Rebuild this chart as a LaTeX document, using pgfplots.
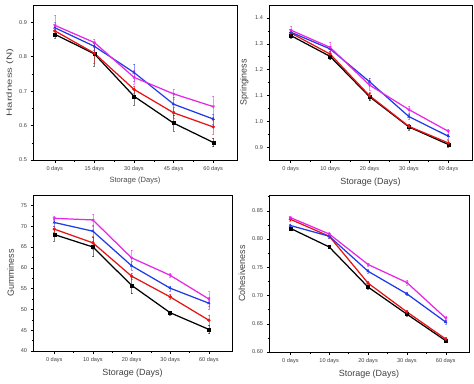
\documentclass[border=0pt]{standalone}
\usepackage{pgfplots}
\pgfplotsset{compat=1.18}
\usepackage{fontspec}
\setmainfont{Liberation Sans}
\definecolor{cblue}{RGB}{30,60,230}
\definecolor{cmag}{RGB}{230,40,230}
\definecolor{cred}{RGB}{230,20,20}
\pgfplotsset{
  panel/.style={
    scale only axis, anchor=south west,
    xmin=-0.55, xmax=4.6,
    xtick={0,1,2,3,4},
    minor xtick={0.5,1.5,2.5,3.5},
    tick align=outside, tick pos=left,
    major tick length=2.5bp, minor tick length=1.5bp,
    tick style={black, line width=0.4pt},
    axis line style={line width=0.7pt},
    tick label style={font=\fontsize{5.6}{6}\selectfont, text=black!75},
    /pgf/number format/assume math mode=true,
    ylabel near ticks, xlabel near ticks,
    every axis plot/.append style={line width=1.25pt, mark size=1.5pt},
    error bars/y dir=both, error bars/y explicit,
    error bars/error bar style={line width=0.3pt, opacity=0.5},
    error bars/error mark options={rotate=90, mark size=1pt, line width=0.3pt},
  },
  sblack/.style={black, mark=square*, mark options={line width=0.4pt}},
  sred/.style={cred, mark=*, mark options={line width=0.4pt}},
  sblue/.style={cblue, mark=triangle*, mark options={line width=0.4pt}},
  smag/.style={cmag, mark=triangle*, mark options={rotate=180, line width=0.4pt}},
}
\begin{document}
\begin{tikzpicture}[x=1bp,y=1bp]
\useasboundingbox (0,0) rectangle (474,383);
% Panel 1 Hardness
\begin{axis}[panel, at={(33bp,223bp)}, width=204bp, height=155bp,
  ymin=0.5, ymax=0.95, ytick={0.5,0.6,0.7,0.8,0.9}, minor ytick={0.55,0.65,0.75,0.85},
  yticklabel style={/pgf/number format/fixed, /pgf/number format/precision=1, /pgf/number format/fixed zerofill},
  xticklabels={0 days,15 days,30 days,45 days,60 days},
  xlabel={\fontsize{7.6}{8}\selectfont Storage (Days)}, ylabel={\scalebox{1.35}[0.9]{\fontsize{8.5}{9}\selectfont Hardness (N)}},
  xlabel style={text=black!70, yshift=1bp}, ylabel style={text=black!70, yshift=-1bp}]
\addplot+[sblack] coordinates {(0,0.865)+-(0,0.012) (1,0.808)+-(0,0.035) (2,0.685)+-(0,0.025) (3,0.607)+-(0,0.023) (4,0.551)+-(0,0.012)};
\addplot+[sred] coordinates {(0,0.875)+-(0,0.012) (1,0.810)+-(0,0.03) (2,0.705)+-(0,0.01) (3,0.637)+-(0,0.015) (4,0.596)+-(0,0.02)};
\addplot+[sblue] coordinates {(0,0.884)+-(0,0.015) (1,0.830)+-(0,0.01) (2,0.754)+-(0,0.025) (3,0.662)+-(0,0.02) (4,0.619)+-(0,0.015)};
\addplot+[smag] coordinates {(0,0.891)+-(0,0.03) (1,0.841)+-(0,0.01) (2,0.740)+-(0,0.02) (3,0.692)+-(0,0.014) (4,0.655)+-(0,0.03)};
\end{axis}
% Panel 2 Springiness
\begin{axis}[panel, at={(269bp,223bp)}, width=203bp, height=155bp,
  ymin=0.85, ymax=1.45, ytick={0.9,1.0,1.1,1.2,1.3,1.4}, minor ytick={0.95,1.05,1.15,1.25,1.35},
  yticklabel style={/pgf/number format/fixed, /pgf/number format/precision=1, /pgf/number format/fixed zerofill},
  xticklabels={0 days,10 days,20 days,30 days,60 days},
  xlabel={\fontsize{9}{10}\selectfont Storage (Days)}, ylabel={\fontsize{9}{10}\selectfont Springiness},
  xlabel style={text=black!75}, ylabel style={text=black!75}]
\addplot+[sblack] coordinates {(0,1.332)+-(0,0.01) (1,1.251)+-(0,0.012) (2,1.095)+-(0,0.015) (3,0.978)+-(0,0.012) (4,0.910)+-(0,0.01)};
\addplot+[sred] coordinates {(0,1.342)+-(0,0.01) (1,1.260)+-(0,0.01) (2,1.099)+-(0,0.015) (3,0.980)+-(0,0.01) (4,0.916)+-(0,0.01)};
\addplot+[sblue] coordinates {(0,1.345)+-(0,0.01) (1,1.280)+-(0,0.01) (2,1.153)+-(0,0.015) (3,1.018)+-(0,0.01) (4,0.942)+-(0,0.01)};
\addplot+[smag] coordinates {(0,1.353)+-(0,0.015) (1,1.286)+-(0,0.02) (2,1.140)+-(0,0.02) (3,1.045)+-(0,0.015) (4,0.961)+-(0,0.01)};
\end{axis}
% Panel 3 Gumminess
\begin{axis}[panel, at={(33bp,32bp)}, width=199bp, height=156bp,
  ymin=40, ymax=77.5, ytick={40,45,...,75}, minor ytick={42.5,47.5,...,72.5},
  xticklabels={0 days,10 days,20 days,30 days,60 days},
  xlabel={\fontsize{9}{10}\selectfont Storage (Days)}, ylabel={\fontsize{9}{10}\selectfont Gumminess},
  xlabel style={text=black!75}, ylabel style={text=black!75}]
\addplot+[sblack] coordinates {(0,68.0)+-(0,1.5) (1,65.0)+-(0,2.3) (2,55.8)+-(0,2.0) (3,49.2)+-(0,0.5) (4,45.2)+-(0,1.0)};
\addplot+[sred] coordinates {(0,69.3)+-(0,0.8) (1,66.0)+-(0,1.5) (2,58.0)+-(0,0.8) (3,53.0)+-(0,0.6) (4,47.4)+-(0,1.2)};
\addplot+[sblue] coordinates {(0,70.9)+-(0,0.8) (1,68.8)+-(0,1.5) (2,60.5)+-(0,1.0) (3,55.1)+-(0,0.6) (4,51.5)+-(0,1.5)};
\addplot+[smag] coordinates {(0,71.9)+-(0,0.5) (1,71.5)+-(0,1.5) (2,62.4)+-(0,1.8) (3,58.2)+-(0,0.5) (4,52.5)+-(0,1.8)};
\end{axis}
% Panel 4 Cohesiveness
\begin{axis}[panel, at={(269bp,31bp)}, width=200bp, height=157bp,
  ymin=0.6, ymax=0.878, ytick={0.60,0.65,...,0.86}, minor ytick={0.625,0.675,...,0.86},
  yticklabel style={/pgf/number format/fixed, /pgf/number format/precision=2, /pgf/number format/fixed zerofill},
  xticklabels={0 days,10 days,20 days,30 days,60 days},
  xlabel={\fontsize{9}{10}\selectfont Storage (Days)}, ylabel={\fontsize{9}{10}\selectfont Cohesiveness},
  xlabel style={text=black!75}, ylabel style={text=black!75}]
\addplot+[sblack] coordinates {(0,0.819)+-(0,0.003) (1,0.786)+-(0,0.002) (2,0.715)+-(0,0.003) (3,0.667)+-(0,0.004) (4,0.620)+-(0,0.003)};
\addplot+[sred] coordinates {(0,0.835)+-(0,0.003) (1,0.805)+-(0,0.003) (2,0.722)+-(0,0.003) (3,0.671)+-(0,0.003) (4,0.623)+-(0,0.003)};
\addplot+[sblue] coordinates {(0,0.824)+-(0,0.003) (1,0.805)+-(0,0.003) (2,0.743)+-(0,0.003) (3,0.703)+-(0,0.003) (4,0.653)+-(0,0.003)};
\addplot+[smag] coordinates {(0,0.838)+-(0,0.003) (1,0.809)+-(0,0.004) (2,0.755)+-(0,0.003) (3,0.723)+-(0,0.004) (4,0.660)+-(0,0.003)};
\end{axis}
\end{tikzpicture}
\end{document}
